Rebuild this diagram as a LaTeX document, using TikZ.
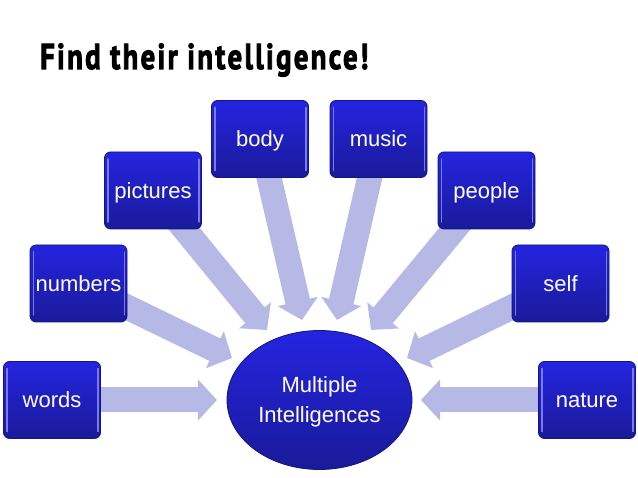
\documentclass[tikz,border=0pt]{standalone}
\usepackage{fontspec}
\setmainfont{Liberation Sans}
\newfontfamily\titlefont[BoldFont={PT Sans Bold},BoldFeatures={FakeBold=3,LetterSpace=8}]{PT Sans}
\usetikzlibrary{arrows.meta,backgrounds,shapes.geometric}
\definecolor{bluetop}{HTML}{2424E0}
\definecolor{bluebot}{HTML}{1A1A9A}
\definecolor{blueedge}{HTML}{15157F}
\definecolor{gloss}{HTML}{7A7AF0}
\definecolor{arrowfill}{HTML}{B6B8E6}
\tikzset{
  base/.style={top color=bluetop,bottom color=bluebot,draw=blueedge,line width=0.8pt,text=white,
    font=\fontsize{22}{31}\selectfont,align=center,inner sep=0pt},
  box/.style={base,rectangle,rounded corners=6pt,minimum width=97pt,minimum height=77pt,text height=18pt,text depth=2pt,
    path picture={
      \draw[gloss,line width=1.6pt,line cap=round]
        ([shift={(3.5pt,-7pt)}]path picture bounding box.north west) --
        ([shift={(3.5pt,7pt)}]path picture bounding box.south west);
      \draw[gloss,line width=1.2pt,line cap=round]
        ([shift={(-2.5pt,-7pt)}]path picture bounding box.north east) --
        ([shift={(-2.5pt,7pt)}]path picture bounding box.south east);
    }},
  hub/.style={base,ellipse,minimum width=185pt,minimum height=139pt,
    path picture={
      \draw[gloss,line width=1.4pt,line cap=round,shift={(path picture bounding box.center)}]
        (125:89pt and 66pt) arc[start angle=125,end angle=235,x radius=89pt,y radius=66pt];
    }},
  flow/.style={draw=arrowfill,line width=25pt,-{Triangle[length=19pt,width=40pt,fill=arrowfill]}},
  heading/.style={font=\titlefont\bfseries\fontsize{36}{40}\selectfont,text=black,anchor=base west,inner sep=0pt,xscale=0.8}
}
\begin{document}
\begin{tikzpicture}[x=1pt,y=-1pt]
\useasboundingbox (0,0) rectangle (638,478);
\node[heading] (title) at (40,69) {Find their intelligence!};
\node[box] (words) at (52,400) {words};
\node[box] (numbers) at (78.5,283.5) {numbers};
\node[box] (pictures) at (153,190.5) {pictures};
\node[box] (body) at (260,139) {body};
\node[box] (music) at (378.5,139) {music};
\node[box] (people) at (486.5,190.5) {people};
\node[box] (self) at (560.5,283.5) {self};
\node[box] (nature) at (587,400) {nature};
\node[hub] (hub) at (319.5,400) {\rule{0pt}{20pt}Multiple\\[-1pt]Intelligences};
\coordinate (t1) at (217,400);
\coordinate (t2) at (232,358);
\coordinate (t3) at (267,330);
\coordinate (t4) at (302,320);
\coordinate (t5) at (337,320);
\coordinate (t6) at (371,330);
\coordinate (t7) at (407,358);
\coordinate (t8) at (421,400);
\begin{scope}[on background layer]
\draw[flow] (words.center) -- (t1);
\draw[flow] (numbers.center) -- (t2);
\draw[flow] (pictures.center) -- (t3);
\draw[flow] (body.center) -- (t4);
\draw[flow] (music.center) -- (t5);
\draw[flow] (people.center) -- (t6);
\draw[flow] (self.center) -- (t7);
\draw[flow] (nature.center) -- (t8);
\end{scope}
\end{tikzpicture}
\end{document}
